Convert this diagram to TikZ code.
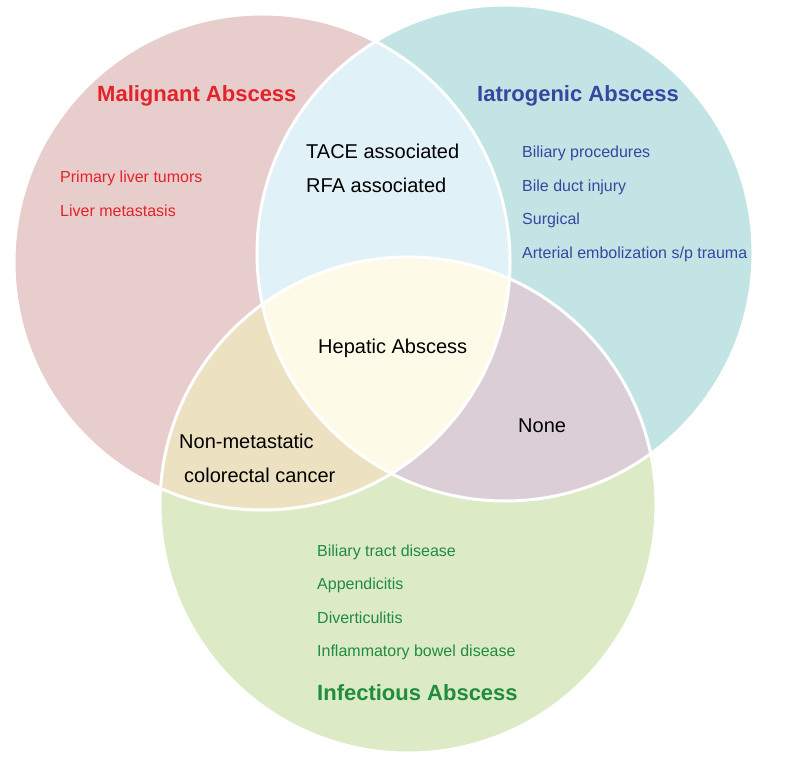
\documentclass[tikz,border=0pt]{standalone}
\usepackage{fontspec}
\setmainfont{Liberation Sans}
\usepackage{tikz}

\definecolor{malfill}{RGB}{232,205,205}
\definecolor{iatfill}{RGB}{194,228,228}
\definecolor{inffill}{RGB}{221,234,198}
\definecolor{maliat}{RGB}{225,241,248}
\definecolor{malinf}{RGB}{236,226,194}
\definecolor{iatinf}{RGB}{220,206,215}
\definecolor{allfill}{RGB}{253,251,232}
\definecolor{malred}{RGB}{226,36,42}
\definecolor{iatblue}{RGB}{52,72,160}
\definecolor{infgreen}{RGB}{32,140,62}

\tikzset{
  ring/.style={draw=white, line width=3pt},
  head/.style={anchor=base west, inner sep=0pt, font=\fontsize{22}{26}\selectfont\bfseries},
  item/.style={anchor=base west, inner sep=0pt, font=\fontsize{16}{19}\selectfont},
  zone/.style={anchor=base west, inner sep=0pt, font=\fontsize{20}{24}\selectfont, color=black}
}

\begin{document}
\begin{tikzpicture}[x=1pt,y=-1pt]
\useasboundingbox (0,0) rectangle (800,759);

% the three sets
\fill[malfill] (262,262) circle (248pt);
\fill[iatfill] (505,253) circle (248pt);
\fill[inffill] (408,505) circle (248pt);

% overlaps
\begin{scope}
\clip (262,262) circle (248pt);
\fill[maliat] (505,253) circle (248pt);
\fill[malinf] (408,505) circle (248pt);
\end{scope}
\begin{scope}
\clip (505,253) circle (248pt);
\fill[iatinf] (408,505) circle (248pt);
\clip (408,505) circle (248pt);
\fill[allfill] (262,262) circle (248pt);
\end{scope}

\draw[ring] (262,262) circle (248pt);
\draw[ring] (505,253) circle (248pt);
\draw[ring] (408,505) circle (248pt);

% Malignant
\node[head, color=malred] (malhead) at (97,102) {Malignant Abscess};
\node[item, color=malred] (mal1) at (60,183) {Primary liver tumors};
\node[item, color=malred] (mal2) at (60,217) {Liver metastasis};

% Iatrogenic
\node[head, color=iatblue] (iathead) at (477,102) {Iatrogenic Abscess};
\node[item, color=iatblue] (iat1) at (522,158) {Biliary procedures};
\node[item, color=iatblue] (iat2) at (522,191.5) {Bile duct injury};
\node[item, color=iatblue] (iat3) at (522,225) {Surgical};
\node[item, color=iatblue] (iat4) at (522,258.5) {Arterial embolization s/p trauma};

% Infectious
\node[item, color=infgreen] (inf1) at (317,556) {Biliary tract disease};
\node[item, color=infgreen] (inf2) at (317,589.5) {Appendicitis};
\node[item, color=infgreen] (inf3) at (317,623) {Diverticulitis};
\node[item, color=infgreen] (inf4) at (317,656.5) {Inflammatory bowel disease};
\node[head, color=infgreen] (infhead) at (317,700) {Infectious Abscess};

% overlaps
\node[zone] (tace) at (306,159) {TACE associated};
\node[zone] (rfa) at (306,193) {RFA associated};
\node[zone] (hepatic) at (318,353) {Hepatic Abscess};
\node[zone] (nonmet) at (179,448) {Non-metastatic};
\node[zone] (colo) at (184,482) {colorectal cancer};
\node[zone] (none) at (518,432) {None};
\end{tikzpicture}
\end{document}
